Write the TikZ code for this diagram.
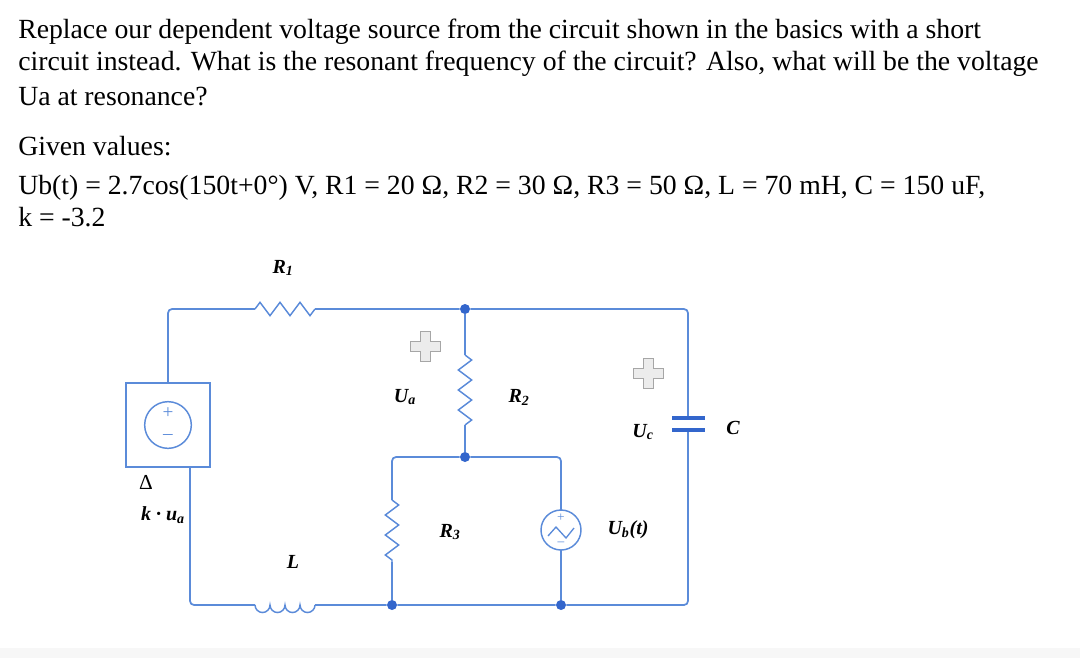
\documentclass[tikz,border=0pt]{standalone}
\usepackage{fontspec}
\setmainfont{Liberation Serif}
\usetikzlibrary{decorations.pathmorphing}
\definecolor{wire}{HTML}{5B8BD9}
\definecolor{dotc}{HTML}{3366CC}
\tikzset{x=0.75pt,y=-0.75pt,
 txt/.style={anchor=west,inner sep=0pt,font=\fontsize{20.8}{24}\selectfont},
 lab/.style={inner sep=0pt,font=\fontsize{15}{17}\selectfont\bfseries\itshape},
 w/.style={draw=wire,line width=1.3pt,rounded corners=3pt},
 res/.style={draw=wire,line width=1.1pt,decorate,decoration={zigzag,segment length=15pt,amplitude=5pt}},
 jn/.style={circle,fill=dotc,inner sep=0pt,minimum size=7.5pt},
 plusc/.style={fill=gray!15,draw=gray!70,line width=0.7pt}}
\newcommand{\pluscross}[2]{\path[plusc] (#1-5,#2-15)--(#1+5,#2-15)--(#1+5,#2-5)--(#1+15,#2-5)--(#1+15,#2+5)--(#1+5,#2+5)--(#1+5,#2+15)--(#1-5,#2+15)--(#1-5,#2+5)--(#1-15,#2+5)--(#1-15,#2-5)--(#1-5,#2-5)--cycle;}
\begin{document}
\begin{tikzpicture}
\useasboundingbox (0,0) rectangle (1080,658);
\fill[gray!6] (0,648) rectangle (1080,658);
\node[txt] (t1) at (18,32) {Replace our dependent voltage source from the circuit shown in the basics with a short};
\node[txt] (t2) at (18,64) {circuit instead. What is the resonant frequency of the circuit? Also, what will be the voltage};
\node[txt] (t3) at (18,97) {Ua at resonance?};
\node[txt] (t4) at (18,146) {Given values:};
\node[txt] (t5) at (18,188) {Ub(t) = 2.7cos(150t+0°) V, R1 = 20 Ω, R2 = 30 Ω, R3 = 50 Ω, L = 70 mH, C = 150 uF,};
\node[txt] (t6) at (18,217) {k = -3.2};
% nodes
\node[jn] (n1) at (465,309) {};
\node[jn] (n2) at (465,457) {};
\node[jn] (n3) at (392,605) {};
\node[jn] (n4) at (561,605) {};
\coordinate (tl) at (168,309);
\coordinate (tr) at (688,309);
\coordinate (br) at (688,605);
\coordinate (bl) at (190,605);
% dependent source
\node[draw=wire,line width=1.3pt,minimum size=63pt,inner sep=0pt] (box) at (168,425) {};
\node[draw=wire,line width=1.1pt,circle,minimum size=35pt,inner sep=0pt] (ds) at (168,425) {};
\node[text=wire,font=\Large] at (168,413) {+};
\node[text=wire,font=\Large] at (168,437) {--};
% wires
\draw[w] (box.north) -- (tl) -- (255,309);
\draw[res] (255,309) -- (315,309);
\draw[w] (315,309) -- (n1) -- (tr) -- (688,418);
\draw[w] (688,430) -- (br) -- (n4) -- (n3) -- (315,605);
\draw[w] (255,605) -- (bl) -- (190,468);
\draw[draw=wire,line width=1.1pt] (255,605) arc[start angle=180,end angle=0,radius=7.5] arc[start angle=180,end angle=0,radius=7.5] arc[start angle=180,end angle=0,radius=7.5] arc[start angle=180,end angle=0,radius=7.5];
\draw[w] (n1) -- (465,355);
\draw[res] (465,355) -- (465,425);
\draw[w] (465,425) -- (n2);
\draw[w] (n2) -- (392,457) -- (392,500);
\draw[res] (392,500) -- (392,562);
\draw[w] (392,562) -- (n3);
\draw[w] (n2) -- (561,457) -- (561,510);
\node[draw=wire,circle,line width=1.1pt,minimum size=30pt,inner sep=0pt] (ub) at (561,530) {};
\draw[wire,line width=1pt] (548,536) -- (556,527) -- (566,538) -- (574,528);
\node[text=wire,font=\normalsize] at (561,518) {+};
\node[text=wire,font=\normalsize] at (561,544) {--};
\draw[w] (561,550) -- (n4);
\draw[draw=dotc,line width=3pt] (672,418) -- (705,418) (672,430) -- (705,430);
% pluses
\pluscross{425}{346}
\pluscross{648}{373}
% labels
\node[lab] at (283,268) {R\textsubscript{1}};
\node[lab] at (405,397) {U\textsubscript{a}};
\node[lab] at (519,397) {R\textsubscript{2}};
\node[lab] at (643,432) {U\textsubscript{c}};
\node[lab] at (733,428) {C};
\node[inner sep=0pt,font=\fontsize{16}{18}\selectfont] at (146,482) {Δ};
\node[lab] at (163,515) {k · u\textsubscript{a}};
\node[lab] at (450,532) {R\textsubscript{3}};
\node[lab] at (628,530) {U\textsubscript{b}(t)};
\node[lab] at (293,562) {L};
\end{tikzpicture}
\end{document}
